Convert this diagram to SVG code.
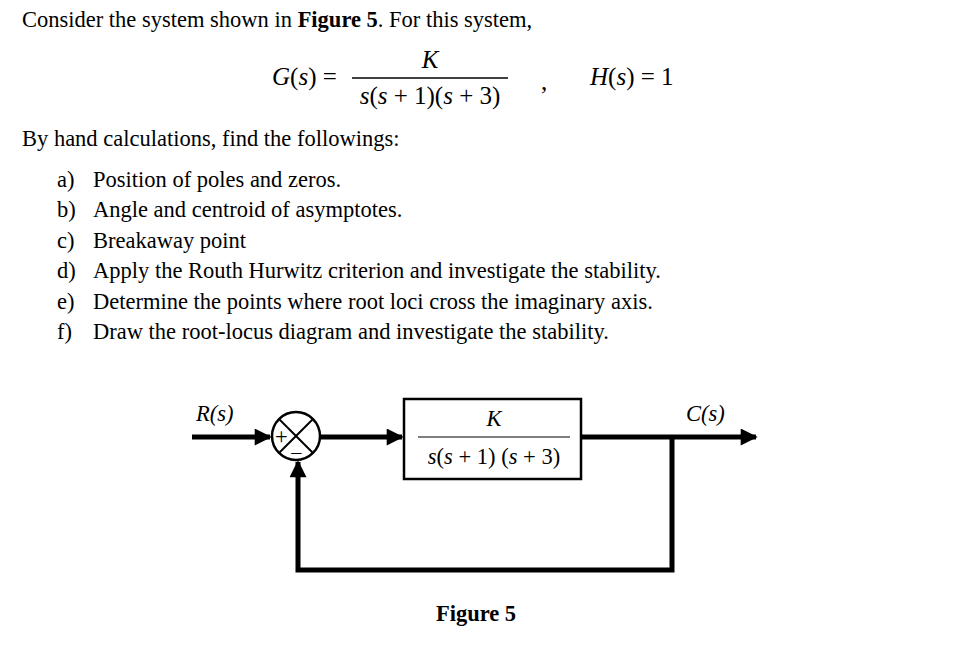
<svg xmlns="http://www.w3.org/2000/svg" width="962" height="654" viewBox="0 0 962 654">
<style>
.t{font-family:"Liberation Serif",serif;font-size:22.5px;fill:#000}
.m{font-family:"Liberation Serif",serif;font-size:25px;fill:#000}
.i{font-style:italic}
.w{stroke:#000;stroke-width:5;fill:none}
</style>
<defs><marker id="a" viewBox="0 0 10 10" refX="9" refY="5" markerWidth="6" markerHeight="3.4" orient="auto" markerUnits="strokeWidth"><path d="M0,0L10,5L0,10z" fill="#000"/></marker></defs>
<rect width="962" height="654" fill="#fff"/>
<g id="text">
<text class="t" x="22" y="27">Consider the system shown in <tspan font-weight="bold">Figure 5</tspan>. For this system,</text>
<text class="m" x="272" y="85"><tspan class="i">G</tspan>(<tspan class="i">s</tspan>) =</text>
<text class="m i" x="430" y="68" text-anchor="middle">K</text>
<line x1="352" y1="78" x2="508" y2="78" stroke="#000" stroke-width="1.5"/>
<text class="m" x="430" y="104" text-anchor="middle"><tspan class="i">s</tspan>(<tspan class="i">s</tspan> + 1)(<tspan class="i">s</tspan> + 3)</text>
<text class="m" x="541" y="90">,</text>
<text class="m" x="590" y="85"><tspan class="i">H</tspan>(<tspan class="i">s</tspan>) = 1</text>
<text class="t" x="22" y="146">By hand calculations, find the followings:</text>
<text class="t" x="57" y="187">a)</text><text class="t" x="93" y="187">Position of poles and zeros.</text>
<text class="t" x="57" y="217">b)</text><text class="t" x="93" y="217">Angle and centroid of asymptotes.</text>
<text class="t" x="57" y="248">c)</text><text class="t" x="93" y="248">Breakaway point</text>
<text class="t" x="57" y="278">d)</text><text class="t" x="93" y="278">Apply the Routh Hurwitz criterion and investigate the stability.</text>
<text class="t" x="57" y="309">e)</text><text class="t" x="93" y="309">Determine the points where root loci cross the imaginary axis.</text>
<text class="t" x="57" y="339">f)</text><text class="t" x="93" y="339">Draw the root-locus diagram and investigate the stability.</text>
<text class="t" x="476" y="621" text-anchor="middle" font-weight="bold">Figure 5</text>
</g>
<g id="labels">
<text class="t i" x="196" y="421" font-size="24">R(s)</text>
<text class="t i" x="686" y="421" font-size="24">C(s)</text>
</g>
<g id="sum">
<circle cx="296" cy="436" r="24" fill="#fff" stroke="#000" stroke-width="2.5"/>
<line x1="279" y1="419" x2="313" y2="453" stroke="#000" stroke-width="2"/>
<line x1="313" y1="419" x2="279" y2="453" stroke="#000" stroke-width="2"/>
<text class="t" x="275" y="444" font-size="19">+</text>
<text class="t" x="290" y="461" font-size="19">−</text>
</g>
<g id="block">
<rect x="404" y="399" width="177" height="80" fill="#fff" stroke="#000" stroke-width="2.5"/>
<text class="t i" x="494" y="426" text-anchor="middle" font-size="24">K</text>
<line x1="418" y1="437" x2="570" y2="437" stroke="#000" stroke-width="1.2"/>
<text class="t" x="494" y="464" text-anchor="middle" font-size="24"><tspan class="i">s</tspan>(<tspan class="i">s</tspan> + 1) (<tspan class="i">s</tspan> + 3)</text>
</g>
<g id="connectors">
<line class="w" x1="192" y1="437" x2="270" y2="437" marker-end="url(#a)"/>
<line class="w" x1="320" y1="437" x2="402" y2="437" marker-end="url(#a)"/>
<line class="w" x1="582" y1="437" x2="756" y2="437" marker-end="url(#a)"/>
<polyline class="w" points="672,437 672,570 298,570 298,462" marker-end="url(#a)"/>
</g>
</svg>
